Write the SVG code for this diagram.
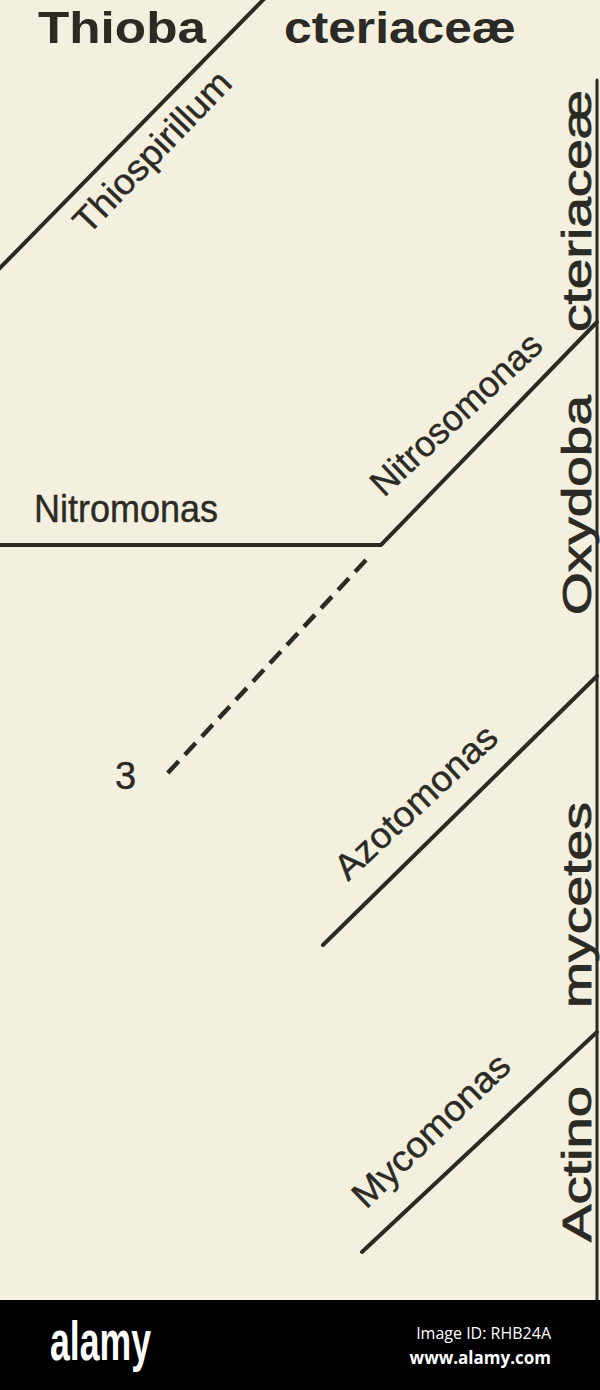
<svg xmlns="http://www.w3.org/2000/svg" width="600" height="1390" viewBox="0 0 600 1390">
  <style>
    .ln { stroke: #2b2a24; stroke-width: 4; fill: none; stroke-linecap: round; stroke-linejoin: miter; }
    .big { font-family: "Liberation Sans", Arial, sans-serif; font-weight: bold; font-size: 45px; fill: #2b2a24; }
    .vert { font-family: "Liberation Sans", Arial, sans-serif; font-size: 40px; fill: #2b2a24; stroke: #2b2a24; stroke-width: 0.8; }
    .lab { font-family: "Liberation Sans", Arial, sans-serif; font-size: 36px; fill: #2b2a24; stroke: #2b2a24; stroke-width: 0.4; }
    .wm { font-family: "Open Sans", "Liberation Sans", sans-serif; fill: #ffffff; }
  </style>
  <rect x="0" y="0" width="600" height="1390" fill="#f3f0df"/>

  <g id="connectors">
    <line class="ln" x1="-2" y1="270" x2="266" y2="-3"/>
    <polyline class="ln" points="0,545 381,545 597,322"/>
    <line class="ln" x1="597" y1="80" x2="597" y2="1300" style="stroke-width:3"/>
    <line class="ln" x1="366" y1="560" x2="165" y2="776" style="stroke-dasharray:16 9; stroke-linecap:butt; stroke-width:4.5"/>
    <line class="ln" x1="323" y1="945" x2="597" y2="676"/>
    <line class="ln" x1="362" y1="1252" x2="597" y2="1032"/>
  </g>

  <g id="thiobacteriaceae">
    <text class="big" x="38" y="43" textLength="168" lengthAdjust="spacingAndGlyphs">Thioba</text>
    <text class="big" x="284" y="43" textLength="232" lengthAdjust="spacingAndGlyphs">cteriaceæ</text>
  </g>
  <g id="thiospirillum">
    <text class="lab" transform="translate(88,236) rotate(-46)" textLength="210" lengthAdjust="spacingAndGlyphs">Thiospirillum</text>
  </g>
  <g id="nitromonas">
    <text class="lab" x="34" y="522" style="font-size:38px" textLength="184" lengthAdjust="spacingAndGlyphs">Nitromonas</text>
  </g>
  <g id="nitrosomonas">
    <text class="lab" transform="translate(384,498) rotate(-43)" textLength="220" lengthAdjust="spacingAndGlyphs">Nitrosomonas</text>
  </g>
  <g id="oxydobacteriaceae">
    <text class="vert" transform="translate(591,615) rotate(-90)" textLength="220" lengthAdjust="spacingAndGlyphs">Oxydoba</text>
    <text class="vert" transform="translate(591,332) rotate(-90)" textLength="242" lengthAdjust="spacingAndGlyphs">cteriaceæ</text>
  </g>
  <g id="node-3">
    <text class="lab" x="115" y="789" style="font-size:38px">3</text>
  </g>
  <g id="azotomonas">
    <text class="lab" transform="translate(348,882) rotate(-43)" textLength="208" lengthAdjust="spacingAndGlyphs">Azotomonas</text>
  </g>
  <g id="mycomonas">
    <text class="lab" transform="translate(366,1210) rotate(-44)" textLength="204" lengthAdjust="spacingAndGlyphs">Mycomonas</text>
  </g>
  <g id="actinomycetes">
    <text class="vert" transform="translate(591,1008) rotate(-90)" textLength="206" lengthAdjust="spacingAndGlyphs">mycetes</text>
    <text class="vert" transform="translate(591,1242) rotate(-90)" textLength="156" lengthAdjust="spacingAndGlyphs">Actino</text>
  </g>

  <g id="banner">
    <rect x="0" y="1300" width="600" height="90" fill="#000000"/>
    <text class="wm" x="50" y="1360" style="font-family:'Liberation Sans',sans-serif;font-weight:bold;font-size:56px" textLength="101" lengthAdjust="spacingAndGlyphs">alamy</text>
    <text class="wm" x="551" y="1339" text-anchor="end" style="font-size:16px">Image ID: RHB24A</text>
    <text class="wm" x="551" y="1364" text-anchor="end" style="font-size:17px;font-weight:bold">www.alamy.com</text>
  </g>
</svg>
